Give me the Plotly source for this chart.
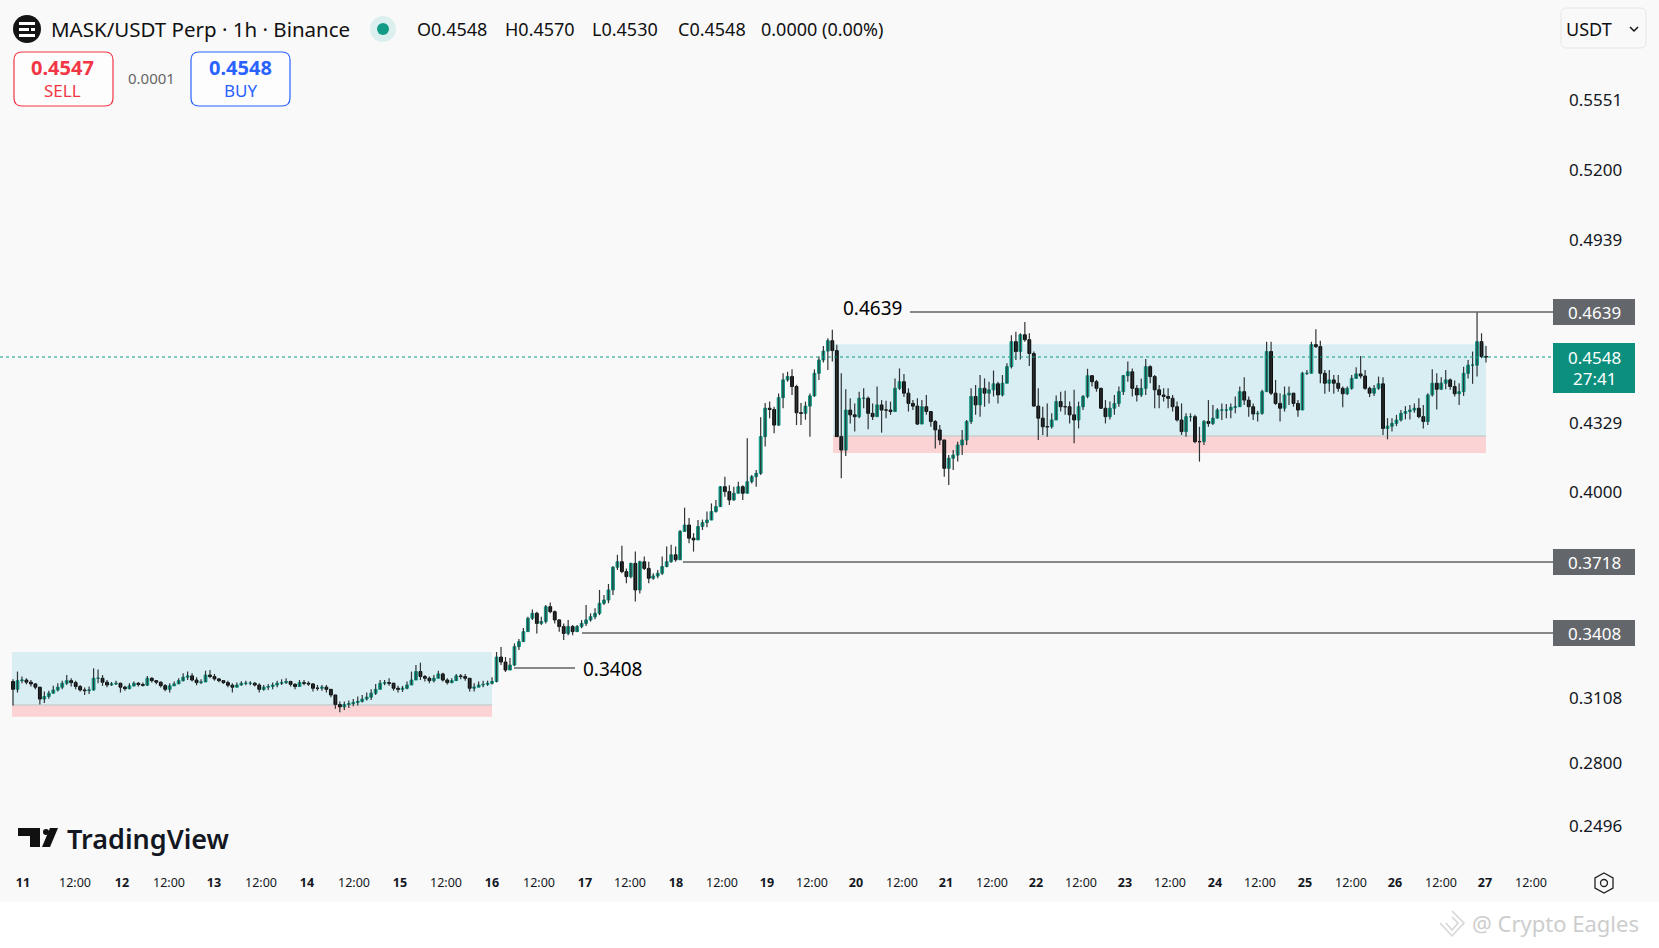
import numpy as np
import plotly.graph_objects as go

W, H = 1659, 948
PLOT_W, PLOT_H = 1556, 870

# price scale printed on the chart (not linear, so prices go through these knots)
axis_prices = [.2496, .2800, .3108, .3408, .3718, .4000, .4329, .4548, .4639, .4939, .5200, .5551]
axis_slots = [826, 763, 698, 633, 562, 492, 423, 357, 312, 240, 170, 100]
plain_ticks = [.5551, .5200, .4939, .4329, .4000, .3108, .2800, .2496]

time_labels = ["<b>11</b>", "12:00", "<b>12</b>", "12:00", "<b>13</b>", "12:00", "<b>14</b>", "12:00",
               "<b>15</b>", "12:00", "<b>16</b>", "12:00", "<b>17</b>", "12:00", "<b>18</b>", "12:00",
               "<b>19</b>", "12:00", "<b>20</b>", "12:00", "<b>21</b>", "12:00", "<b>22</b>", "12:00",
               "<b>23</b>", "12:00", "<b>24</b>", "12:00", "<b>25</b>", "12:00", "<b>26</b>", "12:00",
               "<b>27</b>", "12:00"]
time_px = [23, 75, 122, 169, 214, 261, 307, 354, 400, 446, 492, 539, 585, 630, 676, 722, 767, 812,
           856, 902, 946, 992, 1036, 1081, 1125, 1170, 1215, 1260, 1305, 1351, 1395, 1441, 1485, 1531]

first_open = .3184

closes = [
    # 11th - 16th, the flat range
    .3148, .3188, .3191, .3181, .3173, .3158, .3103, .3115, .3130,
    .3145, .3158, .3176, .3188, .3179, .3161, .3145, .3142, .3145, .3199,
    .3199, .3181, .3168, .3173, .3176, .3158, .3151, .3164, .3176,
    .3170, .3167, .3199, .3188, .3181, .3165, .3148, .3164, .3173,
    .3188, .3204, .3210, .3191, .3179, .3182, .3214, .3207, .3196,
    .3188, .3179, .3167, .3158, .3168,
    .3176, .3176, .3176, .3168, .3148, .3158, .3161, .3168, .3176, .3179,
    .3184, .3171, .3161, .3179, .3176, .3173, .3153, .3153, .3158, .3148,
    .3122, .3077, .3066, .3077, .3081, .3087, .3092, .3103, .3112, .3130,
    .3148, .3176, .3179, .3176, .3153, .3148, .3153, .3168, .3191, .3230,
    .3207, .3199, .3188, .3199, .3219, .3191, .3179, .3188, .3210, .3207,
    .3199, .3153, .3158, .3168, .3171, .3176, .3184,
    # 16th - 19th, the run up
    .3297, .3274, .3237, .3260, .3345, .3368, .3414, .3472, .3494, .3450,
    .3458, .3523, .3501, .3465, .3436, .3406, .3436, .3414, .3436, .3450,
    .3465, .3479, .3494, .3538, .3552, .3596, .3695, .3719, .3676, .3654,
    .3712, .3596, .3719, .3690, .3647, .3657, .3669, .3698, .3719, .3747,
    .3727, .3841, .3867, .3814, .3807, .3861, .3877, .3887, .3921, .3941,
    .4025, .4002, .3968, .3995, .4025, .3995, .4049, .4073, .4089, .4264, .4378,
    .4374, .4319, .4413, .4472, .4483, .4450, .4363, .4361, .4385, .4419, .4494,
    .4538, .4560, .4581, .4561,
    # 19th - 27th, the upper range
    .4264, .4200, .4372, .4356, .4350, .4411, .4411, .4361, .4350,
    .4389, .4372, .4372, .4367, .4444, .4466, .4428, .4394, .4385, .4324,
    .4383, .4367, .4334, .4296, .4248, .4113, .4161, .4176, .4224, .4248,
    .4334, .4417, .4389, .4444, .4428, .4439, .4459, .4422, .4461, .4516,
    .4579, .4559, .4593, .4583, .4555, .4385, .4345, .4311, .4311, .4339,
    .4400, .4383, .4383, .4356, .4339, .4383, .4417, .4486, .4466, .4444,
    .4378, .4350, .4378, .4394, .4433, .4486, .4499, .4444, .4422, .4444,
    .4516, .4483, .4439, .4422, .4417, .4411, .4383, .4339, .4288, .4350,
    .4350, .4240, .4240, .4334, .4327, .4345, .4372, .4372, .4372, .4381,
    .4383,
    .4433, .4405, .4383, .4359, .4361, .4433, .4559, .4428, .4394, .4378,
    .4422, .4428, .4394, .4372, .4494, .4494, .4573, .4569, .4494, .4461,
    .4472, .4461, .4444, .4426, .4444, .4477, .4492, .4485, .4444, .4428,
    .4444, .4459, .4303, .4314, .4327, .4339, .4361, .4367, .4372, .4378,
    .4350, .4334, .4422, .4461, .4441, .4461, .4472, .4450, .4426, .4433,
    .4494, .4521, .4521, .4579, .4549, .4548,
]

highs = [
    .3194, .3230, .3207, .3199, .3191, .3176, .3153, .3138, .3142,
    .3164, .3176, .3188, .3214, .3199, .3188, .3168, .3156, .3161, .3245,
    .3240, .3214, .3191, .3182, .3188, .3179, .3164, .3176, .3184,
    .3182, .3179, .3210, .3204, .3191, .3184, .3173, .3176, .3184,
    .3199, .3222, .3230, .3222, .3204, .3194, .3234, .3237, .3219,
    .3200, .3191, .3188, .3176, .3179,
    .3185, .3188, .3185, .3182, .3176, .3168, .3173, .3179, .3188, .3194,
    .3199, .3188, .3176, .3191, .3191, .3185, .3176, .3168, .3168, .3168,
    .3138, .3122, .3092, .3092, .3096, .3103, .3115, .3122, .3133, .3148,
    .3173, .3191, .3191, .3199, .3179, .3164, .3164, .3184, .3230, .3260,
    .3271, .3214, .3207, .3214, .3234, .3225, .3199, .3199, .3219, .3219,
    .3219, .3194, .3176, .3184, .3188, .3188, .3204,
    .3320, .3343, .3297, .3293, .3360, .3380, .3430, .3479, .3511, .3501,
    .3479, .3530, .3541, .3506, .3468, .3450, .3465, .3443, .3443, .3465,
    .3530, .3494, .3516, .3596, .3574, .3622, .3701, .3747, .3783, .3690,
    .3715, .3760, .3723, .3740, .3719, .3669, .3683, .3740, .3780, .3787,
    .3780, .3847, .3937, .3895, .3834, .3887, .3889, .3921, .3954, .3968,
    .4028, .4073, .4032, .4025, .4049, .4032, .4256, .4081, .4105, .4348, .4395,
    .4400, .4383, .4427, .4494, .4499, .4507, .4456, .4395, .4400, .4427, .4507,
    .4549, .4570, .4586, .4603,
    .4573, .4494, .4441, .4411, .4394, .4433, .4444, .4417, .4394,
    .4450, .4405, .4403, .4400, .4477, .4510, .4492, .4444, .4405, .4411,
    .4405, .4422, .4367, .4339, .4319, .4248, .4176, .4200, .4240, .4296,
    .4339, .4444, .4455, .4488, .4477, .4466, .4503, .4466, .4488, .4527,
    .4592, .4599, .4596, .4619, .4596, .4559, .4444, .4383, .4394, .4361,
    .4420, .4433, .4436, .4400, .4439, .4400, .4422, .4509, .4488, .4472,
    .4446, .4405, .4400, .4422, .4450, .4488, .4533, .4510, .4455, .4477,
    .4541, .4521, .4488, .4455, .4444, .4444, .4422, .4400, .4394, .4361,
    .4361, .4356, .4311, .4339, .4405, .4389, .4378, .4394, .4392, .4394,
    .4417,
    .4450, .4481, .4417, .4394, .4370, .4439, .4579, .4579, .4472, .4428,
    .4450, .4450, .4428, .4405, .4499, .4505, .4579, .4604, .4581, .4505,
    .4505, .4488, .4488, .4450, .4450, .4488, .4514, .4550, .4505, .4450,
    .4455, .4483, .4481, .4345, .4345, .4356, .4372, .4385, .4389, .4394,
    .4411, .4389, .4428, .4507, .4494, .4481, .4505, .4477, .4470, .4461,
    .4516, .4538, .4559, .4639, .4596, .4570,
]

lows = [
    .3072, .3133, .3176, .3171, .3161, .3148, .3077, .3084, .3104,
    .3133, .3138, .3148, .3168, .3161, .3148, .3138, .3122, .3127, .3142,
    .3176, .3164, .3158, .3164, .3168, .3133, .3142, .3148, .3161,
    .3161, .3161, .3164, .3179, .3171, .3156, .3139, .3133, .3164,
    .3173, .3184, .3191, .3184, .3167, .3173, .3184, .3199, .3188,
    .3181, .3173, .3158, .3133, .3158,
    .3164, .3167, .3167, .3161, .3133, .3142, .3145, .3148, .3158, .3168,
    .3173, .3161, .3148, .3167, .3167, .3164, .3138, .3142, .3142, .3133,
    .3112, .3057, .3041, .3051, .3061, .3069, .3072, .3087, .3096, .3099,
    .3122, .3148, .3167, .3164, .3142, .3133, .3136, .3148, .3168, .3199,
    .3191, .3184, .3176, .3179, .3199, .3184, .3170, .3176, .3191, .3194,
    .3188, .3138, .3138, .3158, .3158, .3164, .3170,
    .3180, .3260, .3228, .3237, .3255, .3330, .3368, .3414, .3465, .3406,
    .3443, .3450, .3494, .3450, .3414, .3376, .3398, .3398, .3414, .3429,
    .3439, .3458, .3468, .3486, .3530, .3538, .3574, .3683, .3669, .3625,
    .3647, .3545, .3581, .3683, .3625, .3640, .3647, .3661, .3695, .3715,
    .3719, .3767, .3841, .3794, .3760, .3807, .3847, .3858, .3887, .3917,
    .3941, .3981, .3948, .3965, .3995, .3968, .4011, .4040, .4025, .4081, .4217,
    .4345, .4280, .4315, .4378, .4466, .4422, .4319, .4319, .4340, .4264, .4416,
    .4472, .4530, .4505, .4533,
    .4264, .4065, .4172, .4327, .4288, .4345, .4378, .4299, .4339,
    .4350, .4283, .4345, .4356, .4367, .4439, .4415, .4367, .4372, .4319,
    .4339, .4356, .4311, .4208, .4224, .4073, .4033, .4105, .4145, .4176,
    .4224, .4324, .4356, .4350, .4383, .4394, .4417, .4394, .4417, .4466,
    .4510, .4538, .4540, .4579, .4518, .4385, .4248, .4272, .4264, .4303,
    .4356, .4367, .4356, .4327, .4232, .4303, .4372, .4411, .4450, .4433,
    .4378, .4327, .4341, .4356, .4383, .4422, .4466, .4417, .4400, .4415,
    .4422, .4461, .4378, .4378, .4400, .4378, .4367, .4334, .4272, .4264,
    .4334, .4232, .4145, .4224, .4311, .4319, .4350, .4339, .4345, .4345,
    .4361,
    .4411, .4389, .4350, .4339, .4334, .4356, .4433, .4422, .4389, .4334,
    .4367, .4389, .4383, .4350, .4372, .4488, .4494, .4566, .4461, .4426,
    .4433, .4426, .4433, .4381, .4422, .4439, .4477, .4477, .4439, .4415,
    .4419, .4439, .4272, .4251, .4288, .4314, .4334, .4341, .4341, .4363,
    .4345, .4303, .4319, .4417, .4374, .4439, .4441, .4439, .4417, .4389,
    .4419, .4477, .4459, .4483, .4544, .4530,
]

opens = [first_open] + closes[:-1]


def to_slot(price):
    return np.interp(price, axis_prices, axis_slots)


n = len(closes)
step = (1486 - 13) / (n - 1)
bars = list(range(n))


def bar_at(px):
    return (px - 13) / step


# wicks sit behind the bodies, they are darker than the teal candles
wick_x, wick_y = [], []
for i in bars:
    wick_x += [i, i, None]
    wick_y += [to_slot(max(highs[i], opens[i], closes[i])), to_slot(min(lows[i], opens[i], closes[i])), None]

fig = go.Figure()
fig.add_trace(go.Scatter(x=wick_x, y=wick_y, mode="lines", line=dict(color="#303436", width=1.2),
                         hoverinfo="skip", showlegend=False))
body_top = [to_slot(max(o, c)) for o, c in zip(opens, closes)]
body_bot = [to_slot(min(o, c)) for o, c in zip(opens, closes)]
# the y axis runs top-down here, so a falling candle goes from a small slot to a bigger one
fig.add_trace(go.Candlestick(
    x=bars, open=[to_slot(o) for o in opens], close=[to_slot(c) for c in closes],
    high=body_top, low=body_bot, whiskerwidth=0,
    increasing=dict(line=dict(color="#0b0b0b", width=1), fillcolor="#0b0b0b"),
    decreasing=dict(line=dict(color="#119a86", width=1), fillcolor="#119a86"),
    showlegend=False,
))


def px_x(px):
    return px / PLOT_W


def px_y(py):
    return 1 - py / PLOT_H


def note(text, x, y, size=14, color="#131722", anchor="center", **kw):
    fig.add_annotation(text=text, xref="paper", yref="paper", x=px_x(x), y=px_y(y), showarrow=False,
                       xanchor=anchor, yanchor="middle", font=dict(size=size, color=color, family=FONT, **kw))


def rect(x0, y0, x1, y1, fill, layer="above", line=None):
    fig.add_shape(type="rect", xref="paper", yref="paper", x0=px_x(x0), x1=px_x(x1), y0=px_y(y0), y1=px_y(y1),
                  fillcolor=fill, line=dict(width=0) if line is None else line, layer=layer)


def round_box(x0, y0, x1, y1, r, line_color, fill="rgba(0,0,0,0)", width=1.2):
    X = px_x
    Y = px_y
    path = (f"M{X(x0 + r)},{Y(y0)} L{X(x1 - r)},{Y(y0)} Q{X(x1)},{Y(y0)} {X(x1)},{Y(y0 + r)} "
            f"L{X(x1)},{Y(y1 - r)} Q{X(x1)},{Y(y1)} {X(x1 - r)},{Y(y1)} L{X(x0 + r)},{Y(y1)} "
            f"Q{X(x0)},{Y(y1)} {X(x0)},{Y(y1 - r)} L{X(x0)},{Y(y0 + r)} Q{X(x0)},{Y(y0)} {X(x0 + r)},{Y(y0)} Z")
    fig.add_shape(type="path", xref="paper", yref="paper", path=path, fillcolor=fill,
                  line=dict(color=line_color, width=width))


def poly(points, fill=None, color="rgba(0,0,0,0)", width=1):
    path = "M" + " L".join(f"{px_x(a)},{px_y(b)}" for a, b in points)
    if fill:
        path += " Z"
    fig.add_shape(type="path", xref="paper", yref="paper", path=path, fillcolor=fill or "rgba(0,0,0,0)",
                  line=dict(color=color, width=width))


def circle(cx, cy, r, fill, line=None):
    fig.add_shape(type="circle", xref="paper", yref="paper", x0=px_x(cx - r), x1=px_x(cx + r),
                  y0=px_y(cy - r), y1=px_y(cy + r), fillcolor=fill,
                  line=dict(width=0) if line is None else line)


FONT = "Noto Sans"
BLUE_BOX = "#d9eef2"
RED_BOX = "#fbd3d5"

# support / resistance boxes under the candles
for left, right, top, mid, bottom in [(12, 492, .3320, .3075, .3019), (833, 1486, .4574, .4267, .4186)]:
    fig.add_shape(type="rect", xref="x", yref="y", x0=bar_at(left), x1=bar_at(right), y0=to_slot(top), y1=to_slot(mid),
                  fillcolor=BLUE_BOX, line_width=0, layer="below")
    fig.add_shape(type="rect", xref="x", yref="y", x0=bar_at(left), x1=bar_at(right), y0=to_slot(mid), y1=to_slot(bottom),
                  fillcolor=RED_BOX, line_width=0, layer="below")
    fig.add_shape(type="line", xref="x", yref="y", x0=bar_at(left), x1=bar_at(right), y0=to_slot(mid), y1=to_slot(mid),
                  line=dict(color="#c9cfd0", width=1.5), layer="below")

# last price and drawn levels
fig.add_shape(type="line", xref="paper", yref="y", x0=0, x1=px_x(1553), y0=to_slot(.4548), y1=to_slot(.4548),
              line=dict(color="#119a86", width=1, dash="dot"))
for start, level in [(910, .4639), (683, .3718), (582, .3408)]:
    fig.add_shape(type="line", xref="x", yref="y", x0=bar_at(start), x1=bar_at(1553), y0=to_slot(level), y1=to_slot(level),
                  line=dict(color="#5f6265", width=1.5))
fig.add_shape(type="line", xref="x", yref="paper", x0=bar_at(514), x1=bar_at(575), y0=px_y(668), y1=px_y(668),
              line=dict(color="#5f6265", width=1.5))
note("0.4639", 872, 308, size=19, color="#000000")
note("0.3408", 612, 669, size=19, color="#000000")

# price tags on the axis
for level in [.4639, .3718, .3408]:
    mid_y = float(to_slot(level))
    rect(1553, mid_y - 13, 1635, mid_y + 13, "#63666a")
    note(f"{level:.4f}", 1594, mid_y, size=17, color="#ffffff")
rect(1553, 343, 1635, 393, "#0d8f7d")
note("0.4548", 1594, 357, size=17, color="#ffffff")
note("27:41", 1594, 379, size=17, color="#ffffff")

# header
circle(27, 29, 14, "#141414")
for y0, x0, x1 in [(22, 19, 35), (28, 19, 29), (28, 31, 35), (34, 19, 35)]:
    rect(x0, y0, x1, y0 + 3, "#ffffff")
note("MASK/USDT Perp · 1h · Binance", 49, 29, size=20.5, color="#111111", anchor="left")
circle(383, 29, 13, "#dcefef")
circle(383, 29, 6, "#119a86")
for text, left in [("O0.4548", 415), ("H0.4570", 503), ("L0.4530", 590), ("C0.4548", 676), ("0.0000 (0.00%)", 759)]:
    note(text, left, 29, size=18, color="#111111", anchor="left")

round_box(14, 52, 113, 106, 8, "#f23645", fill="#fdfdfd")
note("0.4547", 62, 68, size=20, color="#f23645", weight="bold")
note("SELL", 62, 91, size=17, color="#f23645")
note("0.0001", 151, 78, size=15, color="#666666")
round_box(191, 52, 290, 106, 8, "#2962ff", fill="#fdfdfd")
note("0.4548", 240, 68, size=20, color="#2962ff", weight="bold")
note("BUY", 240, 91, size=17, color="#2962ff")

round_box(1561, 8, 1646, 48, 6, "#e6e6e6", width=1)
note("USDT", 1589, 29, size=18, color="#111111")
poly([(1630, 27), (1634, 31), (1638, 27)], color="#111111", width=1.5)

# TradingView mark
poly([(18, 828), (40, 828), (40, 847), (30, 847), (30, 836), (18, 836)], fill="#111111")
circle(46, 832, 3, "#111111")
poly([(50, 828), (58, 828), (50, 847), (42, 847)], fill="#111111")
note("TradingView", 65, 838, size=27, color="#131722", anchor="left", weight=600)

# settings wheel
poly([(1604, 873), (1613, 878), (1613, 888), (1604, 893), (1595, 888), (1595, 878)], fill="#f9f9f9", color="#222222", width=1.3)
circle(1604, 883, 3.5, "#f9f9f9", line=dict(color="#222222", width=1.3))

# white strip and watermark
rect(0, 902, W, H, "#ffffff")
poly([(1452, 911), (1464, 923), (1452, 936), (1440, 923)], color="#d5d5d5", width=1.5)
poly([(1452, 917), (1458, 923), (1452, 930), (1446, 923)], color="#d5d5d5", width=1.5)
note("@ Crypto Eagles", 1470, 923, size=22, color="#cdcdcd", anchor="left")

fig.update_layout(
    width=W, height=H, autosize=False,
    margin=dict(l=0, r=W - PLOT_W, t=0, b=H - PLOT_H),
    paper_bgcolor="#f9f9f9", plot_bgcolor="#f9f9f9",
    font=dict(family=FONT, color="#131722"),
    showlegend=False,
    boxgap=0.1,
    xaxis=dict(range=[bar_at(0), bar_at(PLOT_W)], rangeslider=dict(visible=False), showgrid=False, zeroline=False,
               showline=False, tickmode="array", tickvals=[bar_at(p) for p in time_px], ticktext=time_labels,
               tickfont=dict(size=12.5, color="#131722"), ticks="", ticklabelstandoff=3),
    yaxis=dict(range=[PLOT_H, 0], side="right", showgrid=False, zeroline=False, showline=False, tickmode="array",
               tickvals=[float(to_slot(p)) for p in plain_ticks], ticktext=[f"{p:.4f}" for p in plain_ticks],
               tickfont=dict(size=17, color="#131722"), ticks="", ticklabelstandoff=12),
)

# the browser's default 8px body margin would push the chart off the window
fig.write_html("out.html", config={"displayModeBar": False}, post_script="document.body.style.margin='0';")
